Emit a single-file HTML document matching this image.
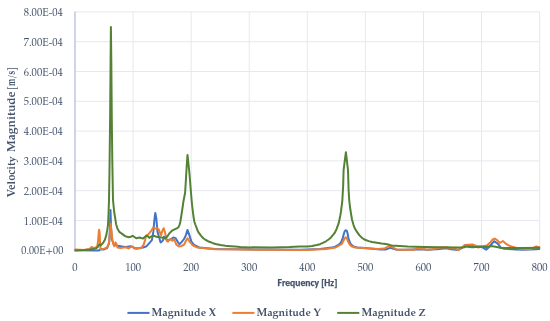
<!DOCTYPE html>
<html><head><meta charset="utf-8"><title>Velocity Magnitude</title>
<style>
html,body{margin:0;padding:0;background:#fff;}
body{width:550px;height:321px;overflow:hidden;}
svg{display:block;}
</style></head><body>
<svg width="550" height="321" viewBox="0 0 550 321">
<rect width="550" height="321" fill="#fff"/>
<g stroke="#E6E8EF" stroke-width="1" fill="none">
<line x1="75.0" y1="220.50" x2="539.6" y2="220.50"/><line x1="75.0" y1="190.70" x2="539.6" y2="190.70"/><line x1="75.0" y1="160.90" x2="539.6" y2="160.90"/><line x1="75.0" y1="131.10" x2="539.6" y2="131.10"/><line x1="75.0" y1="101.30" x2="539.6" y2="101.30"/><line x1="75.0" y1="71.50" x2="539.6" y2="71.50"/><line x1="75.0" y1="41.70" x2="539.6" y2="41.70"/><line x1="75.0" y1="11.90" x2="539.6" y2="11.90"/><line x1="133.08" y1="11.90" x2="133.08" y2="250.30"/><line x1="191.16" y1="11.90" x2="191.16" y2="250.30"/><line x1="249.24" y1="11.90" x2="249.24" y2="250.30"/><line x1="307.32" y1="11.90" x2="307.32" y2="250.30"/><line x1="365.40" y1="11.90" x2="365.40" y2="250.30"/><line x1="423.48" y1="11.90" x2="423.48" y2="250.30"/><line x1="481.56" y1="11.90" x2="481.56" y2="250.30"/><line x1="539.64" y1="11.90" x2="539.64" y2="250.30"/>
</g>
<line x1="75.0" y1="11.60" x2="75.0" y2="250.80" stroke="#C6CADF" stroke-width="1.6"/>
<g fill="none" stroke-width="2" stroke-linejoin="round" stroke-linecap="round">
<polyline stroke="#4472C4" points="75.4,250.3 96.0,250.4 97.7,250.6 99.0,250.4 100.0,249.6 104.0,249.4 107.2,248.0 109.2,243.0 110.0,226.0 110.5,209.9 111.0,226.0 111.8,239.0 113.7,244.5 117.5,245.8 122.4,246.5 125.8,246.9 130.7,246.2 132.7,246.9 134.8,248.2 139.6,247.9 143.1,247.5 146.6,246.2 149.3,243.1 151.9,240.2 153.4,231.4 154.4,219.7 155.3,212.9 156.3,218.2 157.4,231.4 160.6,242.5 162.8,240.8 164.1,236.6 165.4,238.6 167.6,240.3 170.2,239.5 173.3,237.5 175.5,238.1 177.6,241.6 179.4,244.3 181.6,242.1 184.0,239.0 185.7,235.8 187.5,229.9 189.1,234.4 191.3,241.4 194.0,244.8 199.2,247.5 214.9,248.9 240.0,249.3 300.0,249.7 320.0,248.9 334.0,247.3 339.2,244.3 341.0,242.5 342.7,238.5 343.8,234.0 344.7,231.2 345.4,230.4 346.0,230.3 346.7,230.6 347.5,233.0 348.3,237.5 349.3,241.0 350.5,243.6 352.0,245.3 354.0,246.6 357.0,247.4 361.9,247.8 370.0,248.6 380.0,249.5 385.6,249.5 390.2,247.9 393.3,248.8 397.0,249.7 405.0,249.8 418.0,249.2 422.7,249.5 427.5,249.7 436.9,249.2 446.4,248.3 451.1,249.2 457.7,250.0 462.4,247.8 464.3,245.5 467.1,245.0 473.7,246.3 481.0,246.5 486.1,249.7 489.7,246.5 494.1,241.2 497.7,243.6 500.6,247.3 503.5,248.7 515.9,249.5 523.2,249.7 536.3,249.2 539.3,249.0"/>
<polyline stroke="#ED7D31" points="75.4,249.5 84.0,249.9 89.6,249.1 91.5,247.0 92.9,247.7 95.2,247.7 97.1,246.8 98.0,241.6 98.7,233.2 99.1,229.7 99.7,233.2 100.1,243.5 100.6,249.1 102.7,249.1 105.5,248.2 107.4,246.8 109.0,242.6 110.0,233.2 110.6,223.5 111.6,233.2 112.5,240.7 114.1,246.2 115.5,242.4 116.5,244.1 117.5,247.5 120.3,247.9 123.7,247.5 125.8,247.3 128.6,248.4 132.0,246.5 134.8,248.6 136.9,248.9 139.6,248.2 141.7,247.5 143.8,244.4 145.2,239.6 146.2,235.5 147.9,234.8 150.6,231.7 152.0,229.5 153.1,227.6 155.0,228.6 156.8,228.0 158.7,229.3 159.7,232.0 161.1,235.1 162.4,230.7 163.7,228.2 164.8,231.6 165.9,236.8 166.7,240.8 168.0,241.6 169.3,239.9 171.1,239.0 172.4,240.8 173.7,239.0 175.0,241.2 176.3,244.7 178.9,246.4 181.6,246.0 184.0,244.7 186.1,240.5 187.5,238.2 189.6,241.7 193.1,245.7 197.4,247.5 214.9,249.2 240.0,249.6 270.0,249.8 300.0,249.9 307.7,250.0 325.9,249.1 335.7,247.5 341.8,244.0 344.4,238.7 345.9,237.2 347.0,238.8 348.0,241.5 349.7,244.5 351.5,246.3 354.9,247.5 378.0,249.0 384.1,248.6 386.4,247.5 389.5,245.6 392.5,247.1 396.3,249.4 399.4,249.7 408.5,249.7 413.9,249.9 416.2,248.6 418.5,248.6 422.7,248.8 427.5,249.7 432.2,249.2 436.9,248.3 441.6,247.5 446.4,247.2 451.1,248.3 455.8,248.8 458.2,250.2 460.5,248.3 463.4,246.4 465.3,245.0 467.9,244.8 472.3,244.4 475.9,245.8 478.1,247.6 482.5,246.3 486.8,245.4 490.5,242.2 492.6,239.5 494.8,238.6 497.0,240.0 499.9,242.9 502.8,241.0 505.7,243.6 508.6,245.4 511.5,246.5 515.9,247.7 520.3,248.7 526.1,249.2 531.9,248.7 536.3,246.5 539.3,247.3"/>
<polyline stroke="#548235" points="75.4,250.6 84.0,250.1 90.2,249.6 93.3,249.1 96.0,248.4 97.8,247.0 99.3,244.3 100.7,245.4 103.0,243.0 104.9,239.8 106.3,235.1 107.2,230.4 108.0,224.8 108.5,215.0 109.0,200.0 109.5,170.0 110.1,120.0 110.6,60.0 110.9,26.9 111.3,60.0 111.8,120.0 112.3,160.0 113.0,200.0 114.2,212.0 115.1,217.6 116.1,224.2 117.5,228.8 119.4,232.1 119.6,232.0 122.4,234.1 125.1,236.1 128.6,237.2 130.7,236.8 132.7,235.8 136.2,238.2 139.6,237.5 143.1,238.6 145.9,236.1 147.2,235.8 149.3,237.9 151.2,236.5 153.7,235.8 157.4,237.1 158.0,236.8 160.6,237.3 163.2,237.7 165.9,238.0 167.6,236.0 169.8,232.9 172.0,230.7 174.6,229.4 177.2,228.1 178.5,227.2 179.4,225.1 180.3,222.0 181.2,216.5 182.2,210.0 183.5,201.0 185.1,192.7 185.9,180.0 186.7,166.0 187.5,154.9 188.6,165.0 189.6,175.0 190.6,188.0 191.6,200.0 192.3,207.0 193.4,216.0 194.3,221.5 195.3,224.5 196.6,227.8 198.0,231.6 200.9,235.6 203.3,238.2 205.8,240.0 208.0,241.2 210.7,242.2 213.0,243.2 215.6,244.0 220.5,245.0 225.4,245.7 230.3,246.2 235.3,246.6 240.2,247.0 250.0,247.5 253.2,247.2 271.4,247.5 289.5,247.1 300.0,246.6 307.7,246.6 312.0,245.9 316.8,245.0 320.0,244.2 323.4,242.7 326.0,241.3 328.9,239.3 331.0,237.4 333.3,234.6 335.0,232.3 336.5,229.2 338.7,223.2 340.3,215.5 340.9,212.0 342.3,201.2 343.2,185.0 343.6,170.0 345.9,152.2 348.0,170.0 348.6,190.0 349.2,200.0 350.0,207.0 350.9,213.0 352.0,219.5 353.3,224.3 355.0,228.8 357.3,232.4 359.5,235.4 362.2,238.0 365.0,239.8 368.7,241.1 372.0,242.0 376.8,242.8 381.5,243.6 386.0,244.1 388.1,244.4 391.4,245.4 407.7,246.5 424.1,247.0 440.5,247.3 456.8,247.6 464.8,247.3 465.0,246.6 472.3,247.3 479.5,246.8 486.8,247.0 491.2,246.1 495.5,246.8 501.4,248.0 508.6,248.0 523.2,248.0 539.3,247.7"/>
</g>
<g font-family="'TeX Gyre Pagella','Palatino Linotype','Book Antiqua',Palatino,'Liberation Serif',serif" font-size="10.6" fill="#44536C">
<text x="63.3" y="254.30" text-anchor="end" textLength="42" lengthAdjust="spacingAndGlyphs">0.00E+00</text><text x="62.8" y="224.50" text-anchor="end" textLength="39.1" lengthAdjust="spacingAndGlyphs">1.00E-04</text><text x="62.8" y="194.70" text-anchor="end" textLength="39.1" lengthAdjust="spacingAndGlyphs">2.00E-04</text><text x="62.8" y="164.90" text-anchor="end" textLength="39.1" lengthAdjust="spacingAndGlyphs">3.00E-04</text><text x="62.8" y="135.10" text-anchor="end" textLength="39.1" lengthAdjust="spacingAndGlyphs">4.00E-04</text><text x="62.8" y="105.30" text-anchor="end" textLength="39.1" lengthAdjust="spacingAndGlyphs">5.00E-04</text><text x="62.8" y="75.50" text-anchor="end" textLength="39.1" lengthAdjust="spacingAndGlyphs">6.00E-04</text><text x="62.8" y="45.70" text-anchor="end" textLength="39.1" lengthAdjust="spacingAndGlyphs">7.00E-04</text><text x="62.8" y="15.90" text-anchor="end" textLength="39.1" lengthAdjust="spacingAndGlyphs">8.00E-04</text>
<text x="75.00" y="270.6" text-anchor="middle" textLength="5.3" lengthAdjust="spacingAndGlyphs">0</text><text x="133.08" y="270.6" text-anchor="middle" textLength="15.9" lengthAdjust="spacingAndGlyphs">100</text><text x="191.16" y="270.6" text-anchor="middle" textLength="15.9" lengthAdjust="spacingAndGlyphs">200</text><text x="249.24" y="270.6" text-anchor="middle" textLength="15.9" lengthAdjust="spacingAndGlyphs">300</text><text x="307.32" y="270.6" text-anchor="middle" textLength="15.9" lengthAdjust="spacingAndGlyphs">400</text><text x="365.40" y="270.6" text-anchor="middle" textLength="15.9" lengthAdjust="spacingAndGlyphs">500</text><text x="423.48" y="270.6" text-anchor="middle" textLength="15.9" lengthAdjust="spacingAndGlyphs">600</text><text x="481.56" y="270.6" text-anchor="middle" textLength="15.9" lengthAdjust="spacingAndGlyphs">700</text><text x="539.64" y="270.6" text-anchor="middle" textLength="15.9" lengthAdjust="spacingAndGlyphs">800</text>
</g>
<text transform="translate(15.4,0) rotate(-90)" font-family="'TeX Gyre Pagella','Palatino Linotype','Book Antiqua',Palatino,'Liberation Serif',serif" font-weight="bold" font-size="10.9" fill="#44536C"><tspan x="-197.6" textLength="41.3" lengthAdjust="spacingAndGlyphs">Velocity</tspan><tspan x="-152.2" textLength="60.8" lengthAdjust="spacingAndGlyphs">Magnitude</tspan><tspan x="-89.7" textLength="22.4" lengthAdjust="spacingAndGlyphs">[m/s]</tspan></text>
<text x="307.4" y="286.1" text-anchor="middle" font-family="Carlito,Calibri,'Liberation Sans',sans-serif" font-weight="bold" font-size="9.4" fill="#44536C" stroke="#44536C" stroke-width="0.25" textLength="59.8" lengthAdjust="spacingAndGlyphs">Frequency [Hz]</text>
<g stroke-width="2" fill="none">
<line x1="127.4" y1="312.9" x2="149.5" y2="312.9" stroke="#4472C4"/>
<line x1="232.4" y1="312.9" x2="254.4" y2="312.9" stroke="#ED7D31"/>
<line x1="337.2" y1="312.9" x2="359.3" y2="312.9" stroke="#548235"/>
</g>
<g font-family="'TeX Gyre Pagella','Palatino Linotype','Book Antiqua',Palatino,'Liberation Serif',serif" font-weight="bold" font-size="10.7" fill="#44536C">
<text x="151.6" y="315.8" textLength="64.3" lengthAdjust="spacingAndGlyphs">Magnitude X</text>
<text x="256.4" y="315.8" textLength="64.3" lengthAdjust="spacingAndGlyphs">Magnitude Y</text>
<text x="361.5" y="315.8" textLength="64.3" lengthAdjust="spacingAndGlyphs">Magnitude Z</text>
</g>
</svg>
</body></html>
